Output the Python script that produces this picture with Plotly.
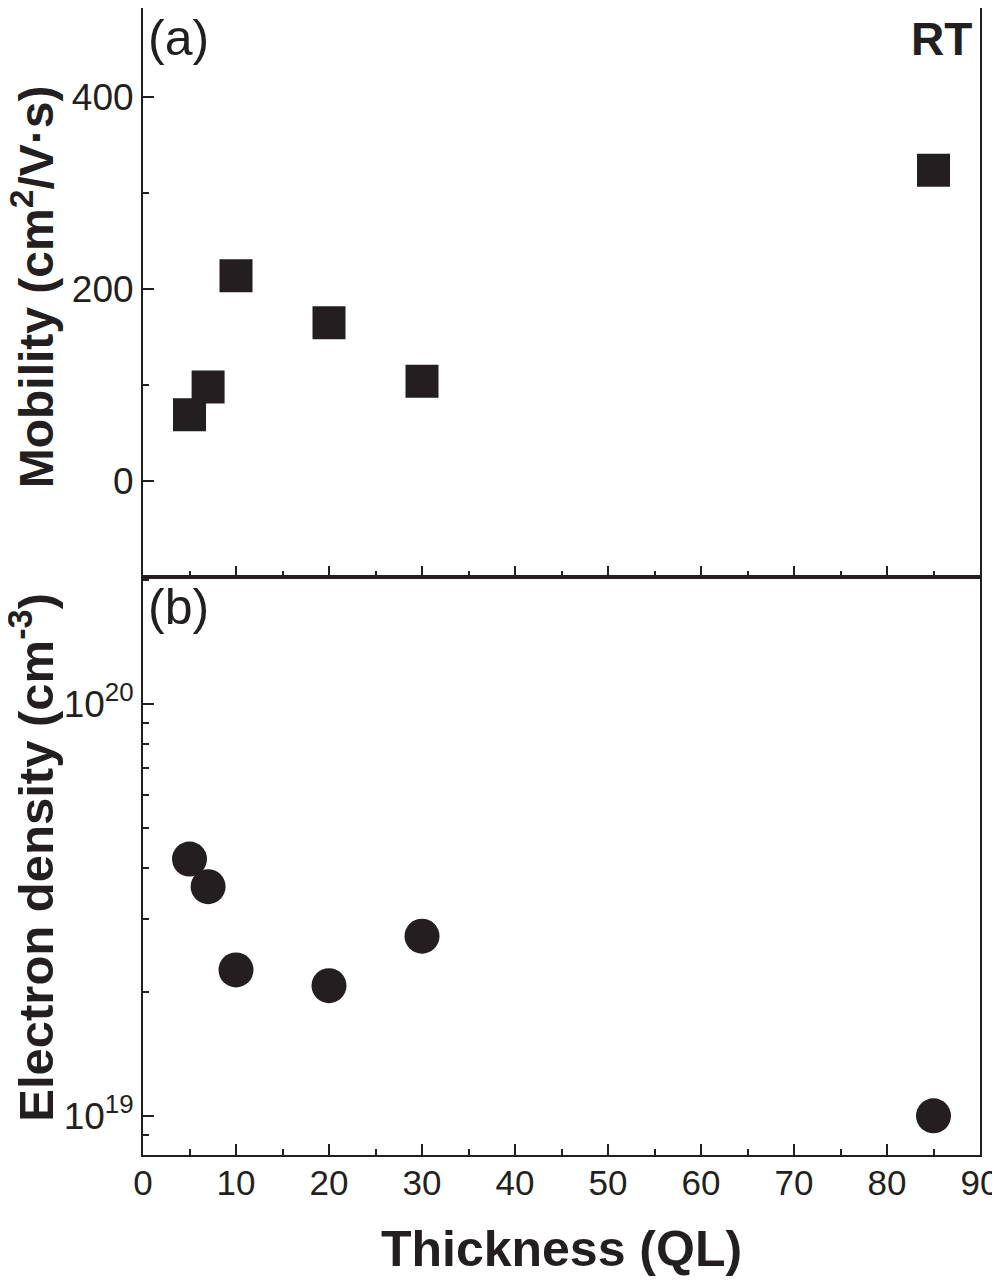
import plotly.graph_objects as go
from plotly.subplots import make_subplots

# thickness in quintuple layers
thickness = [5, 7, 10, 20, 30, 85]
# room-temperature Hall data
mobility = [69, 98, 214, 165, 104, 324]            # cm^2/V.s
density = [4.2e19, 3.6e19, 2.26e19, 2.07e19, 2.73e19, 1.0e19]  # cm^-3

x_ticks = [0, 10, 20, 30, 40, 50, 60, 70, 80, 90]
mob_ticks = [0, 200, 400]
dens_ticks = [1e19, 1e20]
dens_ticktext = ["10<sup>19</sup>", "10<sup>20</sup>"]
dens_minor = [9e18, 2e19, 3e19, 4e19, 5e19, 6e19, 7e19, 8e19, 9e19, 2e20]

ink = "#231f20"
font = "Liberation Sans, Arial, sans-serif"

fig = make_subplots(rows=2, cols=1, shared_xaxes=False, vertical_spacing=0)

fig.add_trace(go.Scatter(x=thickness, y=mobility, mode="markers",
                         marker=dict(symbol="square", size=33, color=ink, line=dict(width=0)),
                         showlegend=False), row=1, col=1)
fig.add_trace(go.Scatter(x=thickness, y=density, mode="markers",
                         marker=dict(symbol="circle", size=35, color=ink, line=dict(width=0)),
                         showlegend=False), row=2, col=1)

axis_common = dict(showline=True, linecolor=ink, linewidth=2, mirror=True,
                   ticks="inside", ticklen=11, tickwidth=2, tickcolor=ink,
                   showgrid=False, zeroline=False, automargin=False,
                   tickfont=dict(family=font, size=37, color=ink))

fig.update_xaxes(range=[0, 90], tickvals=x_ticks,
                 minor=dict(dtick=5, tick0=0, ticks="inside", ticklen=6, tickwidth=2, tickcolor=ink),
                 **axis_common)
fig.update_xaxes(showticklabels=False, row=1, col=1)
fig.update_xaxes(ticklabelstandoff=-4, ticklabeloverflow="allow",
                 tickfont=dict(family=font, size=35, color=ink),
                 title=dict(text="<b>Thickness (QL)</b>", standoff=30,
                            font=dict(family=font, size=50, color=ink)),
                 row=2, col=1)

fig.update_yaxes(range=[-100, 493], tickvals=mob_ticks,
                 minor=dict(tickvals=[100, 300], ticks="inside", ticklen=6, tickwidth=2, tickcolor=ink),
                 row=1, col=1, **axis_common)
fig.update_yaxes(type="log", range=[18.905, 20.308], tickvals=dens_ticks, ticktext=dens_ticktext,
                 minor=dict(tickvals=dens_minor, ticks="inside", ticklen=6, tickwidth=2, tickcolor=ink),
                 row=2, col=1, **axis_common)

# the page body adds an 8 px offset, so the figure is a bit smaller than the window
fig.update_layout(
    width=992, height=1279,
    margin=dict(l=135, r=20, t=0, b=132),
    paper_bgcolor="white", plot_bgcolor="white",
    yaxis=dict(domain=[0.504, 1]),
    yaxis2=dict(domain=[0, 0.504]),
    annotations=[
        # y titles as rotated annotations so they sit clear of the tick labels
        dict(text="<b>Mobility (cm<sup>2</sup>/V·s)</b>", textangle=-90,
             xref="x domain", yref="y domain", x=-0.132, y=0.51,
             xanchor="center", yanchor="middle", showarrow=False,
             font=dict(family=font, size=48, color=ink)),
        dict(text="<b>Electron density (cm<sup>-3</sup>)</b>", textangle=-90,
             xref="x2 domain", yref="y2 domain", x=-0.132, y=0.515,
             xanchor="center", yanchor="middle", showarrow=False,
             font=dict(family=font, size=49, color=ink)),
        dict(text="(a)", xref="x domain", yref="y domain", x=0.004, y=1.0,
             xanchor="left", yanchor="top", showarrow=False,
             font=dict(family=font, size=50, color=ink)),
        dict(text="<b>RT</b>", xref="x domain", yref="y domain", x=0.993, y=0.995,
             xanchor="right", yanchor="top", showarrow=False,
             font=dict(family=font, size=46, color=ink)),
        dict(text="(b)", xref="x2 domain", yref="y2 domain", x=0.004, y=1.0,
             xanchor="left", yanchor="top", showarrow=False,
             font=dict(family=font, size=50, color=ink)),
    ],
)

fig.write_html("out.html")
